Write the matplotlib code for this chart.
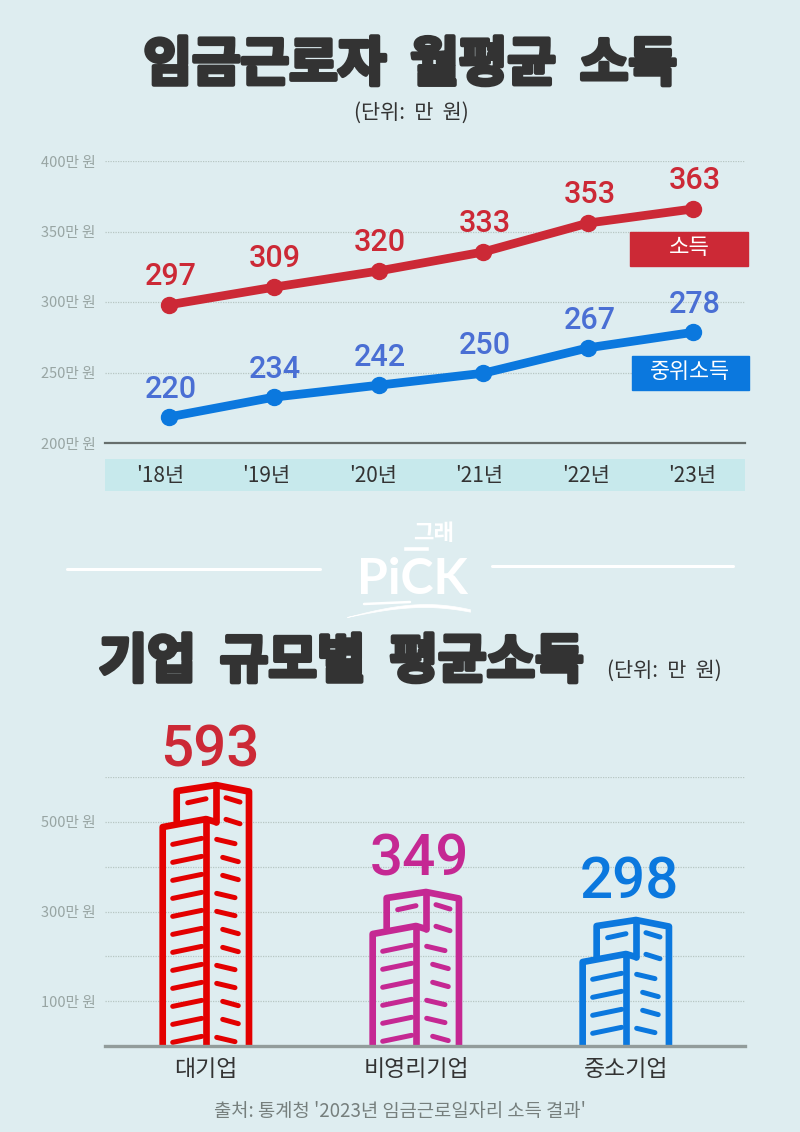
import matplotlib
matplotlib.use("Agg")
import matplotlib.pyplot as plt
import matplotlib.patheffects as pe
import numpy as np
from matplotlib.patches import Rectangle

KR = ['Noto Sans CJK KR', 'DejaVu Sans']
plt.rcParams['font.family'] = KR

# ---- data ----
years = ["'18년", "'19년", "'20년", "'21년", "'22년", "'23년"]
income_labels = [297, 309, 320, 333, 353, 363]
income_drawn = [298, 310.5, 322, 335.5, 356, 366]
median_labels = [220, 234, 242, 250, 267, 278]
median_drawn = [218.5, 232.5, 241, 249.5, 267.5, 278.5]
top_ticks = [200, 250, 300, 350, 400]
top_ticklabels = ['200만 원', '250만 원', '300만 원', '350만 원', '400만 원']

companies = ['대기업', '비영리기업', '중소기업']
company_labels = [593, 349, 298]
company_heights = [582, 343.5, 281]
bottom_ticks = [0, 100, 200, 300, 400, 500, 600]
bottom_ticklabels = ['', '100만 원', '', '300만 원', '', '500만 원', '']

# ---- style ----
BG = '#deedf0'
RED = '#cc2936'
BLUE = '#0b78de'
BLUE_TXT = '#4a6fd4'
DARK = '#333333'
TICK = '#98a5a3'
GRID = '#b7c6c3'
BUILD = ['#e30000', '#c52893', '#0b78de']
LABEL_C = ['#cc2936', '#c52893', '#0b78de']
W, H = 800, 1132

fig = plt.figure(figsize=(8, 11.32), dpi=100, facecolor=BG)


def axes_px(x0, y0, x1, y1, **kw):
    return fig.add_axes([x0 / W, 1 - y1 / H, (x1 - x0) / W, (y1 - y0) / H], **kw)


def style_axes(ax):
    ax.patch.set_alpha(0)
    for s in ax.spines.values():
        s.set_visible(False)
    ax.grid(axis='y', color=GRID, ls=(0, (1, 1)), lw=0.9)
    ax.set_axisbelow(True)
    ax.tick_params(length=0)


# ---- top chart ----
ax = axes_px(105, 161, 745, 443)
style_axes(ax)
ax.set_xlim(-0.611, 5.496)
ax.set_ylim(200, 400)
xs = np.arange(len(years))
ax.plot(xs, income_drawn, color=RED, lw=6.3, marker='o', ms=11.5, solid_capstyle='round', clip_on=False, zorder=3)
ax.plot(xs, median_drawn, color=BLUE, lw=6.3, marker='o', ms=11.5, solid_capstyle='round', clip_on=False, zorder=3)
ax.axhline(200, color='#666e6c', lw=1.6, clip_on=False, zorder=2)
for x, yd, lab in zip(xs, income_drawn, income_labels):
    ax.annotate(str(lab), (x, yd), xytext=(1, 20.5), textcoords='offset points', ha='center', va='center',
                color=RED, fontsize=22, family='Roboto', weight=500)
for x, yd, lab in zip(xs, median_drawn, median_labels):
    ax.annotate(str(lab), (x, yd), xytext=(1, 20), textcoords='offset points', ha='center', va='center',
                color=BLUE_TXT, fontsize=22, family='Roboto', weight=500)
ax.set_yticks(top_ticks)
ax.set_yticklabels(top_ticklabels, fontsize=10.5, color=TICK, weight='light')
ax.tick_params(axis='y', pad=7)
ax.set_xticks([])

# year band: its own axes so the labels keep the reference's slightly wider spacing
band = axes_px(105, 459, 745, 491, facecolor='#c7e9ec')
for s in band.spines.values():
    s.set_visible(False)
band.set_xlim((105 - 160) / 106.5, (745 - 160) / 106.5)
band.set_yticks([])
band.set_xticks(xs)
band.set_xticklabels(years, fontsize=15, color=DARK, weight='light')
band.tick_params(axis='x', length=0, pad=-19)

# ---- bottom chart ----
bx = axes_px(105, 777, 745, 1046)
style_axes(bx)
bx.set_xlim(-0.481, 2.567)
bx.set_ylim(0, 600)
PX = 1 / 210
PY = 600 / 269


def building(ax, cx, peak, color):
    def pts(dx, off):
        return cx + np.array(dx) * PX, peak - np.array(off) * PY
    wall = dict(color=color, lw=4.8, solid_capstyle='round', solid_joinstyle='round', zorder=3)
    win = dict(color=color, lw=3.6, solid_capstyle='round', zorder=3)
    base = peak / PY
    ax.plot(*pts([-29.3, -29.3, 10, 43, 43], [36, 6, 0, 6.5, base]), **wall)
    ax.plot(*pts([-43.3, -43.3, 0, 10], [base, 42, 34, 37]), **wall)
    ax.plot(*pts([10, 10], [0, 37]), **wall)
    ax.plot(*pts([0, 0], [34, base]), **wall)
    ax.plot(*pts([-18.3, 0], [17.7, 13.7]), **win)
    ax.plot(*pts([20, 34], [12.7, 17]), **win)
    ax.plot(*pts([20, 34], [34.3, 38.7]), **win)
    off, row = 59.3, 0
    while off < base:
        ax.plot(*pts([-33.3, -4.3], [off, off - 6]), **win)
        d = (10.7, 29) if row % 4 in (0, 3) else (16.7, 32.3)
        ax.plot(*pts(d, [off - 5, off - 0.7]), **win)
        off += 18
        row += 1


for i, (hh, c) in enumerate(zip(company_heights, BUILD)):
    building(bx, i, hh, c)
for i, (lab, c) in enumerate(zip(company_labels, LABEL_C)):
    bx.annotate(str(lab), (i, lab), xytext=(2.5, 21), textcoords='offset points', ha='center', va='center',
                color=c, fontsize=42, family='Roboto', weight=500, annotation_clip=False)
bx.axhline(0, color='#929c9b', lw=2.4, clip_on=False, zorder=4)
bx.set_yticks(bottom_ticks)
bx.set_yticklabels(bottom_ticklabels, fontsize=10.5, color=TICK, weight='light')
bx.tick_params(axis='y', pad=7)
bx.set_xticks(range(3))
bx.set_xticklabels(companies, fontsize=16.5, color=DARK, weight='light')
bx.tick_params(axis='x', pad=9)

# ---- decorations ----
ov = fig.add_axes([0, 0, 1, 1], zorder=7)
ov.set_xlim(0, W)
ov.set_ylim(H, 0)
ov.axis('off')
ov.add_patch(Rectangle((630, 232), 118, 34, color=RED))
ov.add_patch(Rectangle((632, 356), 117, 34, color=BLUE))
ov.text(689, 248, '소득', color='white', fontsize=16, ha='center', va='center', weight='light')
ov.text(690, 372, '중위소득', color='white', fontsize=15.7, ha='center', va='center', weight='light')

thick = [pe.withStroke(linewidth=3, foreground=DARK)]
ov.text(410, 65, '임금근로자  월평균  소득', color=DARK, fontsize=38, weight=900, ha='center', va='center',
        path_effects=thick)
ov.text(341, 662, '기업  규모별  평균소득', color=DARK, fontsize=38, weight=900, ha='center', va='center',
        path_effects=thick)
ov.text(411, 113, '(단위:  만  원)', color=DARK, fontsize=15, weight='light', ha='center', va='center')
ov.text(664, 671, '(단위:  만  원)', color=DARK, fontsize=15, weight='light', ha='center', va='center')
ov.text(400, 1112, "출처: 통계청 '2023년 임금근로일자리 소득 결과'", color='#767f7d', fontsize=13.5,
        weight='light', ha='center', va='center')

# logo
ov.plot([67, 320], [569, 569], color='white', lw=2.2, solid_capstyle='round')
ov.plot([492, 733], [566, 566], color='white', lw=2.2, solid_capstyle='round')
ov.text(434, 533, '그래', color='white', fontsize=16, weight='bold', ha='center', va='center')
ov.plot([406, 427], [549, 549], color='white', lw=2.6)
ov.text(412, 580, 'PiCK', color='white', fontsize=36, family='Lato', weight='bold', ha='center', va='center')
t = np.linspace(0, 1, 40)
ov.fill_between(347 + 123 * t, 617 - 17 * np.sin(t * 2.2) + 6 * t,
                617 - 14 * np.sin(t * 2.2) + 6 * t, color='white', lw=0.5)
ov.plot([364, 410], [604, 602], color='white', lw=1.8, solid_capstyle='round')

fig.savefig('out.png', dpi=100, facecolor=BG)
